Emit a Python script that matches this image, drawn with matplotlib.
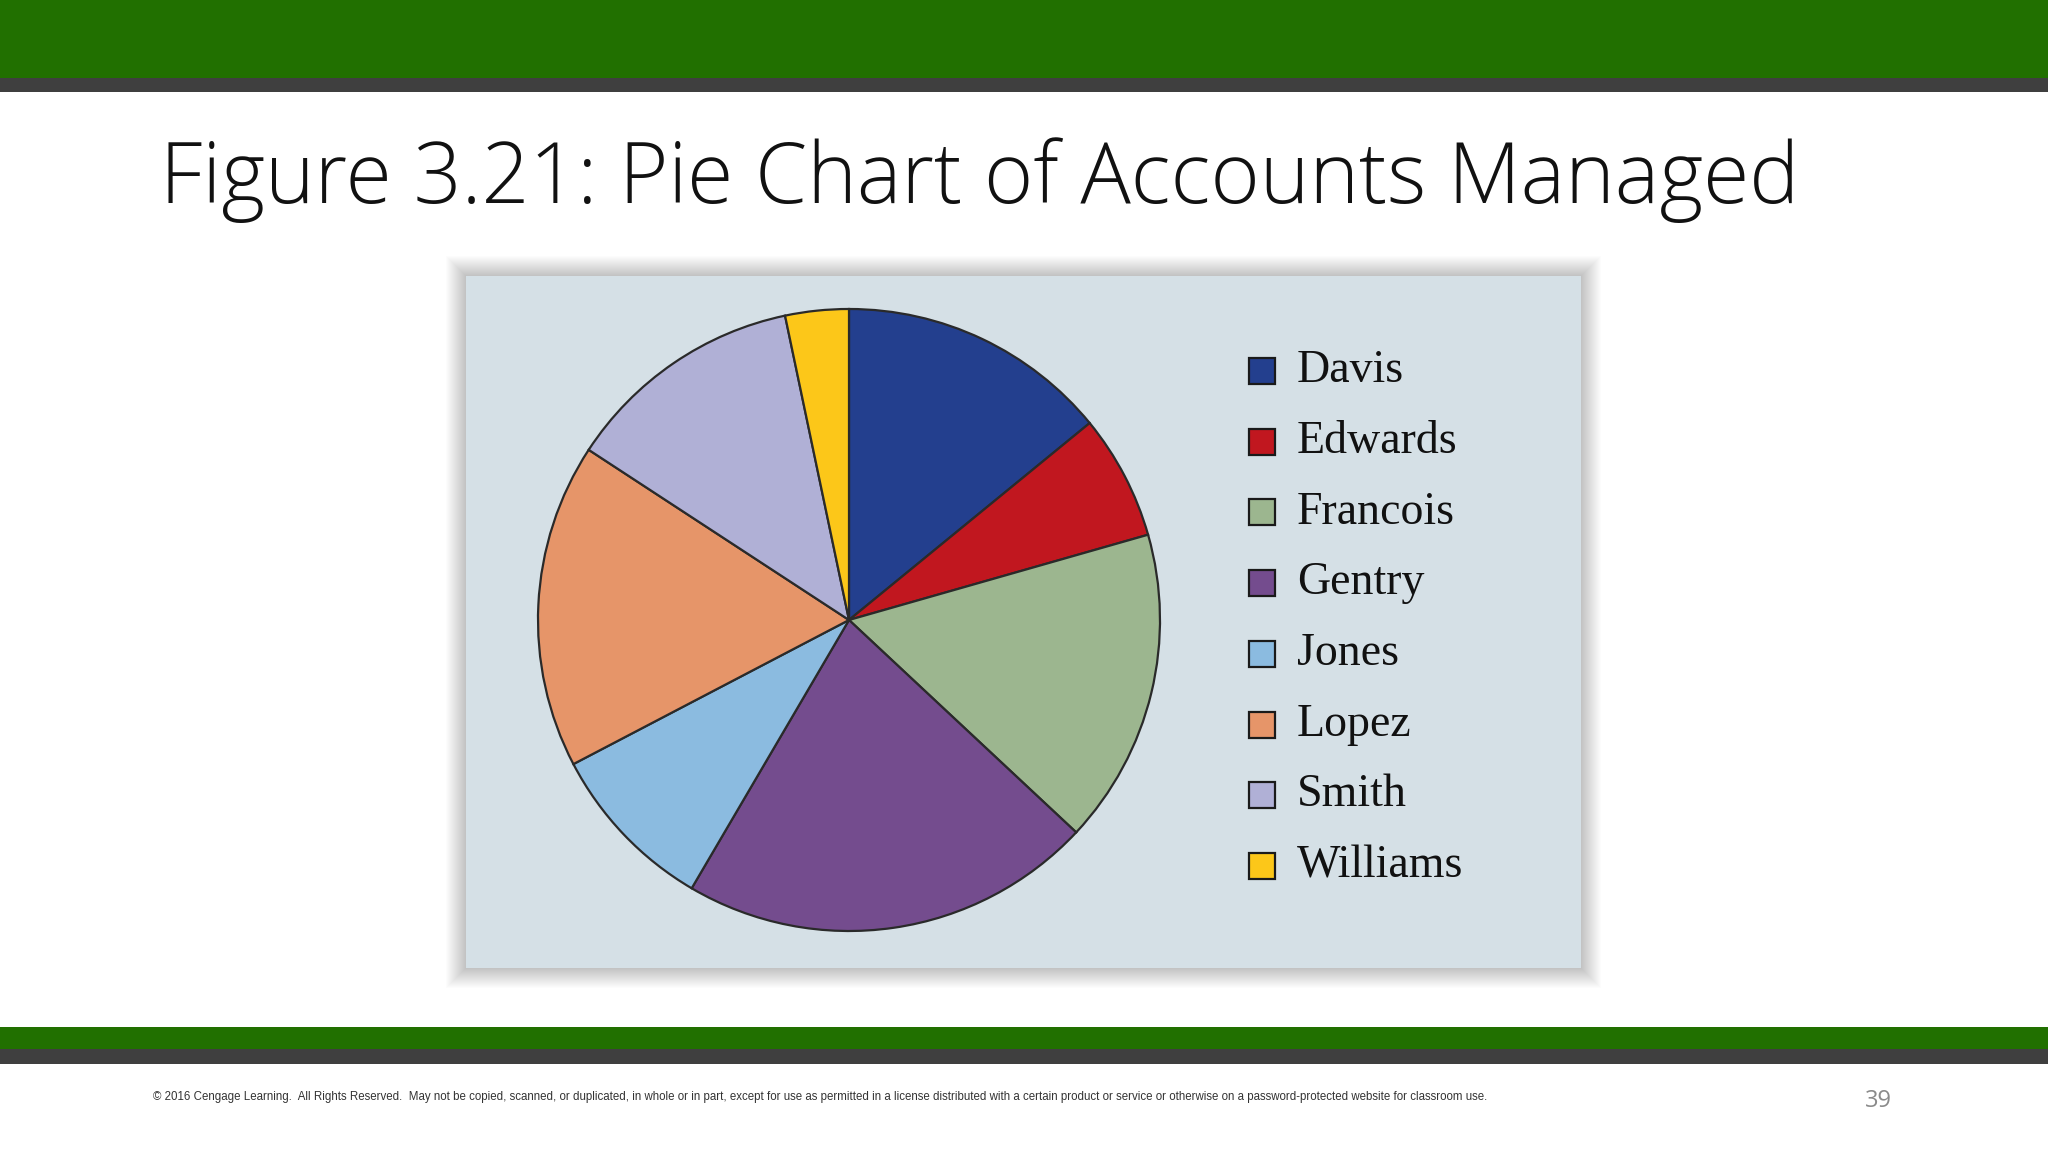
import matplotlib
matplotlib.use("Agg")
import matplotlib.pyplot as plt
from matplotlib.patches import Rectangle

# data (share of accounts, %)
names = ["Davis", "Edwards", "Francois", "Gentry", "Jones", "Lopez", "Smith", "Williams"]
shares = [14.1, 6.5, 16.4, 21.5, 8.9, 16.9, 12.5, 3.3]
colors = ["#233f8e", "#c1171f", "#9cb68f", "#744c8e", "#8bbbe0", "#e69569", "#b0b0d6", "#fcc719"]

title = "Figure 3.21: Pie Chart of Accounts Managed"
footer = ("\u00a9 2016 Cengage Learning.  All Rights Reserved.  May not be copied, scanned, or duplicated, "
          "in whole or in part, except for use as permitted in a license distributed with a certain product "
          "or service or otherwise on a password-protected website for classroom use.")
page_no = "39"

W, H = 2048, 1152
fig = plt.figure(figsize=(W / 100, H / 100), dpi=100)
ax = fig.add_axes([0, 0, 1, 1])
ax.set_xlim(0, W)
ax.set_ylim(0, H)
ax.axis("off")


def yy(y):  # pixel-from-top -> data y
    return H - y


def band(y0, y1, color, x0=0, x1=W):
    ax.add_patch(Rectangle((x0, yy(y1)), x1 - x0, y1 - y0, color=color, lw=0, zorder=1))


# slide bars
band(0, 78, "#217000")
band(78, 92, "#3f3f3f")
band(1027, 1049, "#217000")
band(1049, 1064, "#3f3f3f")


def fit_text(x, y, s, width, size, **kw):
    t = ax.text(x, yy(y), s, fontsize=size, **kw)
    r = fig.canvas.get_renderer()
    w = t.get_window_extent(r).width
    t.set_fontsize(size * width / w)
    return t


fit_text(160, 203, title, 1640, 62, family=["Open Sans", "DejaVu Sans"], weight="light",
         color="#111111", va="baseline", ha="left")
fit_text(153, 1097, footer, 1335, 7, family=["Liberation Sans Narrow", "Liberation Sans", "DejaVu Sans"],
         color="#333333", va="center", ha="left")
ax.text(1878, yy(1101), page_no, fontsize=17, family=["Open Sans", "DejaVu Sans"],
        color="#8a8a8a", va="center", ha="center")

# chart panel with soft shadow
px0, px1, py0, py1 = 466, 1581, 276, 968
for i in range(20, 0, -1):
    ax.add_patch(Rectangle((px0 - i, yy(py1 + i)), (px1 - px0) + 2 * i, (py1 - py0) + 2 * i,
                           color="#000000", alpha=0.013, lw=0, zorder=2))
ax.add_patch(Rectangle((px0, yy(py1)), px1 - px0, py1 - py0, color="#d5e0e6", lw=0, zorder=3))

# pie
wedges, _ = ax.pie(shares, colors=colors, startangle=90, counterclock=False,
                   center=(849, yy(620)), radius=311, frame=True,
                   wedgeprops=dict(edgecolor="#2a2a2a", linewidth=1.6, zorder=4))
for w in wedges:
    w.set_zorder(4)
ax.set_xlim(0, W)
ax.set_ylim(0, H)
ax.set_aspect("auto")
ax.axis("off")

# legend
lx, ly0, step, sq = 1249, 371, 70.7, 26
for i, (n, c) in enumerate(zip(names, colors)):
    yc = ly0 + i * step
    ax.add_patch(Rectangle((lx, yy(yc + sq / 2)), sq, sq, facecolor=c, edgecolor="#1a1a1a",
                           lw=1.6, zorder=5))
    ax.text(lx + 48, yy(yc), n, fontsize=33, family=["Liberation Serif", "DejaVu Serif"],
            color="#111111", va="center", ha="left", zorder=5)

fig.savefig("out.png", dpi=100)
